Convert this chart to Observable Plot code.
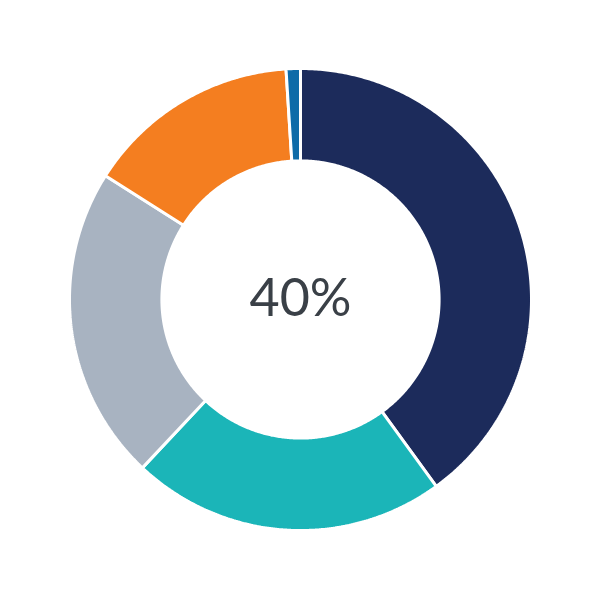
<!DOCTYPE html>
<html>
<head>
<meta charset="utf-8">
<script src="https://cdn.jsdelivr.net/npm/d3@7"></script>
<script src="https://cdn.jsdelivr.net/npm/@observablehq/plot@0.6"></script>
<style>
  html, body { margin: 0; padding: 0; background: #ffffff; }
  #chart { width: 600px; height: 599px; }
</style>
</head>
<body>
<div id="chart"></div>
<script>
// Data
const categories = ["Segment A", "Segment B", "Segment C", "Segment D", "Segment E"];
const values = [40, 22, 22, 15, 1];
const colors = ["#1c2b5b", "#1bb5b8", "#a8b3c1", "#f47e20", "#0e6ba8"];
const centerLabel = "40%";

const innerRatio = 0.6;

// Build slice polygons (unit coordinates) from the values
const total = d3.sum(values);
const pts = [];
let start = 0;
categories.forEach((cat, i) => {
  const a0 = start / total * 2 * Math.PI;
  const a1 = (start + values[i]) / total * 2 * Math.PI;
  start += values[i];
  const n = Math.max(4, Math.ceil((a1 - a0) / (Math.PI / 360)));
  const ring = [];
  for (let k = 0; k <= n; k++) {
    const a = a0 + (a1 - a0) * k / n;
    ring.push({key: cat, x: Math.sin(a), y: Math.cos(a)});
  }
  for (let k = n; k >= 0; k--) {
    const a = a0 + (a1 - a0) * k / n;
    ring.push({key: cat, x: innerRatio * Math.sin(a), y: innerRatio * Math.cos(a)});
  }
  ring.push({...ring[0]});
  pts.push(...ring);
});

const chart = Plot.plot({
  width: 600,
  height: 599,
  marginLeft: 69,
  marginRight: 69,
  marginTop: 68,
  marginBottom: 69,
  x: {domain: [-1, 1], axis: null},
  y: {domain: [-1, 1], axis: null},
  color: {domain: categories, range: colors},
  style: {background: "#ffffff", fontFamily: "Lato, 'Open Sans', sans-serif"},
  marks: [
    Plot.line(pts, {x: "x", y: "y", z: "key", fill: "key", stroke: "white", strokeWidth: 3, strokeLinejoin: "miter", curve: "linear"}),
    Plot.text([centerLabel], {x: () => 0, y: () => 0, text: d => d, fontSize: 52, fontWeight: 400, fill: "#3a4047", fontFamily: "Lato, 'Open Sans', sans-serif"})
  ]
});
document.getElementById("chart").appendChild(chart);
</script>
</body>
</html>
